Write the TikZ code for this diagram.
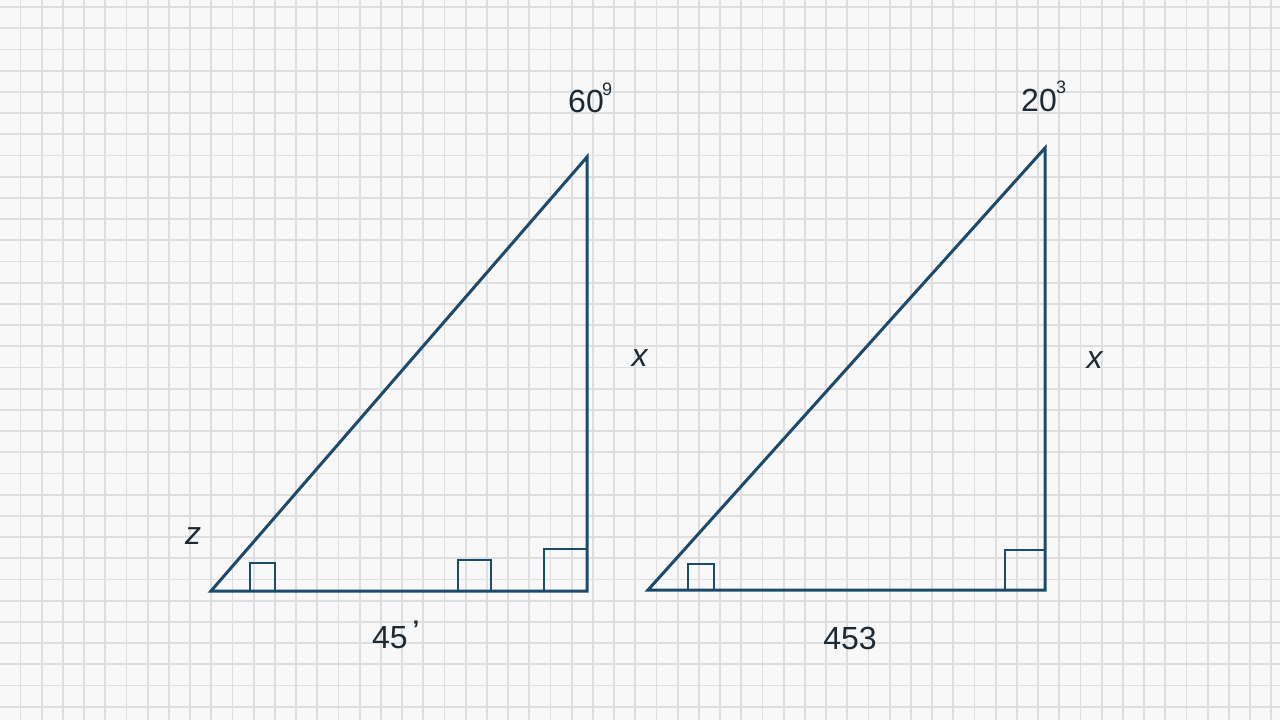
\documentclass[tikz,border=0pt]{standalone}
\usepackage{fontspec}
\setmainfont{Liberation Sans}
\begin{document}
\begin{tikzpicture}[x=0.5pt,y=-0.5pt,
  tri/.style={draw=edgeblue,line width=1.5pt,line join=miter},
  rbox/.style={draw=edgeblue,line width=1.2pt},
  lbl/.style={text=labelink,font=\fontsize{16}{18}\selectfont,inner sep=0pt},
  sup/.style={text=labelink,font=\fontsize{9}{10}\selectfont,inner sep=0pt},
  gridline/.style={draw=gridgray,line width=0.9pt}]
\definecolor{edgeblue}{HTML}{1B4A6B}
\definecolor{labelink}{HTML}{1E2A33}
\definecolor{gridgray}{HTML}{DCDEDF}
\definecolor{paper}{HTML}{F8F8F8}
\fill[paper] (0,0) rectangle (1280,720);
\useasboundingbox (0,0) rectangle (1280,720);
\foreach \i in {0,...,60} {\draw[gridline] ({20.5+21.2*\i},0) -- ({20.5+21.2*\i},720);}
\foreach \j in {0,...,33} {\draw[gridline] (0,{7+21.2*\j}) -- (1280,{7+21.2*\j});}
% left triangle
\coordinate (A1) at (211,591);
\coordinate (B1) at (587,591);
\coordinate (C1) at (587,157);
\draw[tri] (A1) -- (B1) -- (C1) -- cycle;
\draw[rbox] (250,591) rectangle (275,563);
\draw[rbox] (458,591) rectangle (491,560);
\draw[rbox] (544,591) rectangle (587,549);
% right triangle
\coordinate (A2) at (648,590);
\coordinate (B2) at (1045,590);
\coordinate (C2) at (1045,148);
\draw[tri] (A2) -- (B2) -- (C2) -- cycle;
\draw[rbox] (688,590) rectangle (714,564);
\draw[rbox] (1005,590) rectangle (1045,550);
% labels
\node[lbl] (t1) at (586,101) {60};
\node[sup] (t1s) at (607,89) {9};
\node[lbl] (t2) at (1039,100) {20};
\node[sup] (t2s) at (1061,87) {3};
\node[lbl] (x1) at (640,358) {\textit{x}};
\node[lbl] (x2) at (1095,360) {\textit{x}};
\node[lbl] (z1) at (193,536) {\textit{z}};
\node[lbl] (b1) at (390,638) {45};
\node[sup,font=\fontsize{12}{12}\selectfont\bfseries] (b1s) at (416,629) {'};
\node[lbl] (b2) at (850,638) {453};
\end{tikzpicture}
\end{document}
